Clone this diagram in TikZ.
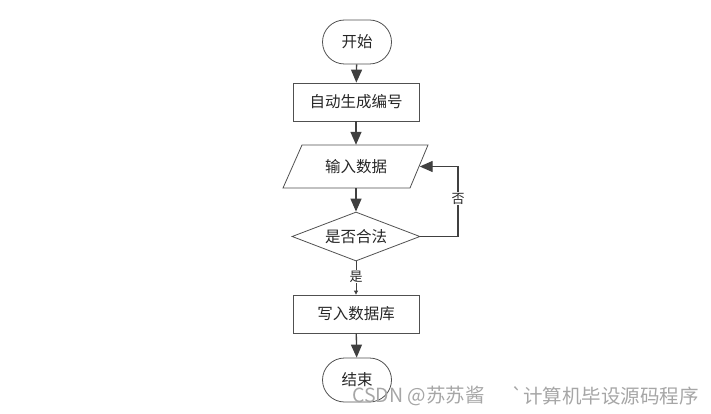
\documentclass[tikz,border=0pt]{standalone}
\usepackage{fontspec}
\setmainfont{Noto Sans CJK SC}
\newfontfamily\cjk{Noto Sans CJK SC}
\usetikzlibrary{shapes.geometric,shapes.misc,arrows.meta}
\definecolor{linec}{RGB}{64,64,64}
\definecolor{boxc}{RGB}{80,80,80}
\tikzset{
  every node/.style={font=\cjk\fontsize{15.5pt}{17pt}\selectfont, text=black!85},
  term/.style={rounded rectangle, draw=boxc, line width=0.8pt, minimum width=69pt, minimum height=44pt, inner sep=0pt},
  proc/.style={rectangle, draw=boxc, line width=0.8pt, minimum width=126pt, minimum height=38pt, inner sep=0pt},
  iotext/.style={rectangle, minimum width=127pt, minimum height=43pt, inner sep=0pt},
  ioshape/.style={draw=boxc, line width=0.8pt},
  dec/.style={diamond, draw=boxc, line width=0.8pt, minimum width=128pt, minimum height=49pt, aspect=2.6, inner sep=0pt},
  flow/.style={draw=linec, line width=1.3pt, -{Triangle[width=11pt,length=13pt]}},
  thinflow/.style={draw=linec, line width=0.8pt, -{Triangle[width=4pt,length=4pt]}},
  lbl/.style={fill=white, inner sep=1pt, font=\cjk\fontsize{13pt}{14pt}\selectfont},
  wm/.style={text=black!35, font=\cjk\fontsize{19.5pt}{21pt}\selectfont, anchor=west, inner sep=0pt}
}
\begin{document}
\begin{tikzpicture}[x=1pt,y=-1pt]
\useasboundingbox (0,0) rectangle (711,414);
\node[term] (start) at (357,42) {开始};
\node[proc] (auto) at (356,102) {自动生成编号};
\node[iotext] (in) at (356,166.5) {输入数据};
\coordinate (inTL) at (302,145);
\coordinate (inTR) at (428,145);
\coordinate (inBR) at (410,188);
\coordinate (inBL) at (283,188);
\draw[ioshape] (inTL) -- (inTR) -- (inBR) -- (inBL) -- cycle;
\node[dec] (chk) at (356,236.5) {是否合法};
\node[proc] (wr) at (356,314) {写入数据库};
\node[term] (end) at (357,380) {结束};
\coordinate (loop) at (458,236.5);
\draw[flow] (start) -- (auto);
\draw[flow] (auto) -- (in);
\draw[flow] (in) -- (chk);
\draw[flow] (chk.east) -- (loop) |- (in.east) node[lbl, pos=0.27] {否};
\draw[thinflow] (chk.south) -- (wr.north) node[lbl, pos=0.45] {是};
\draw[flow] (wr) -- (end);
\node[wm] (wm1) at (352,396) {CSDN @苏苏酱};
\node[wm] (wm2) at (511,396) {\symbol{"60}计算机毕设源码程序};
\end{tikzpicture}
\end{document}
